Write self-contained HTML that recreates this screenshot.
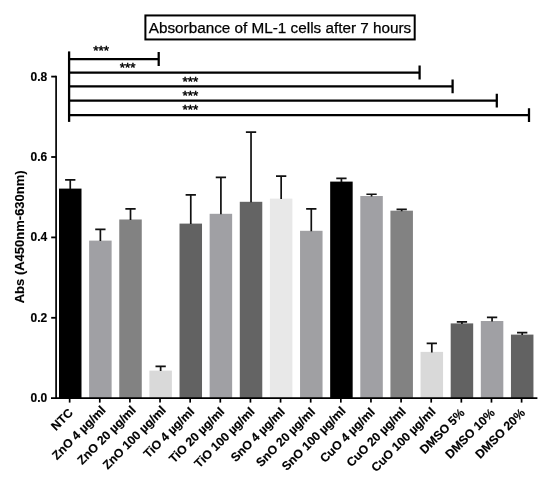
<!DOCTYPE html>
<html><head><meta charset="utf-8"><title>Absorbance of ML-1 cells after 7 hours</title>
<style>
html,body{margin:0;padding:0;background:#fff;}
body{width:550px;height:484px;overflow:hidden;}
svg{display:block;font-family:"Liberation Sans",Arial,sans-serif;}
.b{font-weight:bold;font-size:12px;fill:#000;stroke:#000;stroke-width:0.15px;}
.xl{font-size:12.2px;}
.yl{font-size:13px;}
.s{font-size:13.5px;fill:#000;stroke:#000;stroke-width:0.45px;}
</style></head><body>
<svg width="550" height="484" viewBox="0 0 550 484">
<rect width="550" height="484" fill="#fff"/>

<rect x="145.4" y="15.45" width="269.3" height="24" fill="#fff" stroke="#000" stroke-width="2"/>
<text x="148.8" y="32.7" font-size="15.3" fill="#000" stroke="#000" stroke-width="0.25" textLength="262.4" lengthAdjust="spacingAndGlyphs">Absorbance of ML-1 cells after 7 hours</text>
<rect x="59.00" y="188.60" width="22.5" height="209.40" fill="#000000"/>
<path d="M70.25 189.10V179.60M65.10 179.95H75.40" stroke="#111" stroke-width="1.7" fill="none"/>
<path d="M69.65 398V402.6" stroke="#000" stroke-width="1.7"/>
<text class="b xl" text-anchor="end" transform="translate(73.75,413.60) rotate(-45)">NTC</text>
<rect x="89.13" y="240.60" width="22.5" height="157.40" fill="#a0a0a4"/>
<path d="M100.38 241.10V229.00M95.23 229.35H105.53" stroke="#111" stroke-width="1.7" fill="none"/>
<path d="M99.78 398V402.6" stroke="#000" stroke-width="1.7"/>
<text class="b xl" text-anchor="end" transform="translate(106.48,410.90) rotate(-45)">ZnO 4 µg/ml</text>
<rect x="119.26" y="219.48" width="22.5" height="178.52" fill="#828282"/>
<path d="M130.51 219.98V208.60M125.36 208.95H135.66" stroke="#111" stroke-width="1.7" fill="none"/>
<path d="M129.91 398V402.6" stroke="#000" stroke-width="1.7"/>
<text class="b xl" text-anchor="end" transform="translate(136.61,410.90) rotate(-45)">ZnO 20 µg/ml</text>
<rect x="149.39" y="370.60" width="22.5" height="27.40" fill="#d9d9d9"/>
<path d="M160.64 371.10V366.00M155.49 366.35H165.79" stroke="#111" stroke-width="1.7" fill="none"/>
<path d="M160.04 398V402.6" stroke="#000" stroke-width="1.7"/>
<text class="b xl" text-anchor="end" transform="translate(166.74,410.90) rotate(-45)">ZnO 100 µg/ml</text>
<rect x="179.52" y="223.60" width="22.5" height="174.40" fill="#626262"/>
<path d="M190.77 224.10V194.60M185.62 194.95H195.92" stroke="#111" stroke-width="1.7" fill="none"/>
<path d="M190.17 398V402.6" stroke="#000" stroke-width="1.7"/>
<text class="b xl" text-anchor="end" transform="translate(195.07,412.40) rotate(-45)">TiO 4 µg/ml</text>
<rect x="209.65" y="213.80" width="22.5" height="184.20" fill="#a0a0a4"/>
<path d="M220.90 214.30V177.00M215.75 177.35H226.05" stroke="#111" stroke-width="1.7" fill="none"/>
<path d="M220.30 398V402.6" stroke="#000" stroke-width="1.7"/>
<text class="b xl" text-anchor="end" transform="translate(225.20,412.40) rotate(-45)">TiO 20 µg/ml</text>
<rect x="239.78" y="201.80" width="22.5" height="196.20" fill="#646464"/>
<path d="M251.03 202.30V131.80M245.88 132.15H256.18" stroke="#111" stroke-width="1.7" fill="none"/>
<path d="M250.43 398V402.6" stroke="#000" stroke-width="1.7"/>
<text class="b xl" text-anchor="end" transform="translate(255.33,412.40) rotate(-45)">TiO 100 µg/ml</text>
<rect x="269.91" y="198.60" width="22.5" height="199.40" fill="#e8e8e8"/>
<path d="M281.16 199.10V175.80M276.01 176.15H286.31" stroke="#111" stroke-width="1.7" fill="none"/>
<path d="M280.56 398V402.6" stroke="#000" stroke-width="1.7"/>
<text class="b xl" text-anchor="end" transform="translate(285.66,412.60) rotate(-45)">SnO 4 µg/ml</text>
<rect x="300.04" y="230.80" width="22.5" height="167.20" fill="#a0a0a3"/>
<path d="M311.29 231.30V208.60M306.14 208.95H316.44" stroke="#111" stroke-width="1.7" fill="none"/>
<path d="M310.69 398V402.6" stroke="#000" stroke-width="1.7"/>
<text class="b xl" text-anchor="end" transform="translate(315.79,412.60) rotate(-45)">SnO 20 µg/ml</text>
<rect x="330.17" y="181.60" width="22.5" height="216.40" fill="#000000"/>
<path d="M341.42 182.10V178.00M336.27 178.35H346.57" stroke="#111" stroke-width="1.7" fill="none"/>
<path d="M340.82 398V402.6" stroke="#000" stroke-width="1.7"/>
<text class="b xl" text-anchor="end" transform="translate(346.42,411.70) rotate(-45)">SnO 100 µg/ml</text>
<rect x="360.30" y="196.00" width="22.5" height="202.00" fill="#a0a0a4"/>
<path d="M371.55 196.50V193.88M366.40 194.23H376.70" stroke="#111" stroke-width="1.7" fill="none"/>
<path d="M370.95 398V402.6" stroke="#000" stroke-width="1.7"/>
<text class="b xl" text-anchor="end" transform="translate(375.55,412.90) rotate(-45)">CuO 4 µg/ml</text>
<rect x="390.43" y="210.68" width="22.5" height="187.32" fill="#828282"/>
<path d="M401.68 211.18V209.00M396.53 209.35H406.83" stroke="#111" stroke-width="1.7" fill="none"/>
<path d="M401.08 398V402.6" stroke="#000" stroke-width="1.7"/>
<text class="b xl" text-anchor="end" transform="translate(406.68,412.30) rotate(-45)">CuO 20 µg/ml</text>
<rect x="420.56" y="351.88" width="22.5" height="46.12" fill="#d9d9d9"/>
<path d="M431.81 352.38V343.00M426.66 343.35H436.96" stroke="#111" stroke-width="1.7" fill="none"/>
<path d="M431.21 398V402.6" stroke="#000" stroke-width="1.7"/>
<text class="b xl" text-anchor="end" transform="translate(436.31,412.40) rotate(-45)">CuO 100 µg/ml</text>
<rect x="450.69" y="323.40" width="22.5" height="74.60" fill="#626262"/>
<path d="M461.94 323.90V321.60M456.79 321.95H467.09" stroke="#111" stroke-width="1.7" fill="none"/>
<path d="M461.34 398V402.6" stroke="#000" stroke-width="1.7"/>
<text class="b xl" text-anchor="end" transform="translate(465.54,413.70) rotate(-45)">DMSO 5%</text>
<rect x="480.82" y="321.00" width="22.5" height="77.00" fill="#a0a0a4"/>
<path d="M492.07 321.50V317.00M486.92 317.35H497.22" stroke="#111" stroke-width="1.7" fill="none"/>
<path d="M491.47 398V402.6" stroke="#000" stroke-width="1.7"/>
<text class="b xl" text-anchor="end" transform="translate(495.67,413.70) rotate(-45)">DMSO 10%</text>
<rect x="510.95" y="334.60" width="22.5" height="63.40" fill="#626262"/>
<path d="M522.20 335.10V332.20M517.05 332.55H527.35" stroke="#111" stroke-width="1.7" fill="none"/>
<path d="M521.60 398V402.6" stroke="#000" stroke-width="1.7"/>
<text class="b xl" text-anchor="end" transform="translate(525.80,413.70) rotate(-45)">DMSO 20%</text>
<path d="M51 398.1H537.4" stroke="#000" stroke-width="1.9"/>
<path d="M56.1 75.7V398.5" stroke="#000" stroke-width="1.7"/>
<text class="b" x="47.3" y="402.25" text-anchor="end">0.0</text>
<path d="M51.2 317.80H56" stroke="#000" stroke-width="1.8"/>
<text class="b" x="47.3" y="321.85" text-anchor="end">0.2</text>
<path d="M51.2 237.40H56" stroke="#000" stroke-width="1.8"/>
<text class="b" x="47.3" y="241.45" text-anchor="end">0.4</text>
<path d="M51.2 157.00H56" stroke="#000" stroke-width="1.8"/>
<text class="b" x="47.3" y="161.05" text-anchor="end">0.6</text>
<path d="M51.2 76.60H56" stroke="#000" stroke-width="1.8"/>
<text class="b" x="47.3" y="80.65" text-anchor="end">0.8</text>
<text class="b yl" text-anchor="middle" transform="translate(24,236.8) rotate(-90)">Abs (A450nm-630nm)</text>
<path d="M69.1 51.4V121.9" stroke="#000" stroke-width="2.3"/>
<path d="M69 59H158.7M158.7 52.1V65.9" stroke="#000" stroke-width="2.25" fill="none"/>
<path d="M69 72.5H419.6M419.6 65.6V79.4" stroke="#000" stroke-width="2.25" fill="none"/>
<path d="M69 86.4H452.6M452.6 79.5V93.30000000000001" stroke="#000" stroke-width="2.25" fill="none"/>
<path d="M69 100.6H496.8M496.8 93.69999999999999V107.5" stroke="#000" stroke-width="2.25" fill="none"/>
<path d="M69 115.1H529M529 108.19999999999999V122.0" stroke="#000" stroke-width="2.25" fill="none"/>
<text class="s" x="101.2" y="55.0" text-anchor="middle">***</text>
<text class="s" x="127.7" y="71.9" text-anchor="middle">***</text>
<text class="s" x="190.4" y="85.7" text-anchor="middle">***</text>
<text class="s" x="190.4" y="99.9" text-anchor="middle">***</text>
<text class="s" x="190.4" y="113.5" text-anchor="middle">***</text>
</svg></body></html>
